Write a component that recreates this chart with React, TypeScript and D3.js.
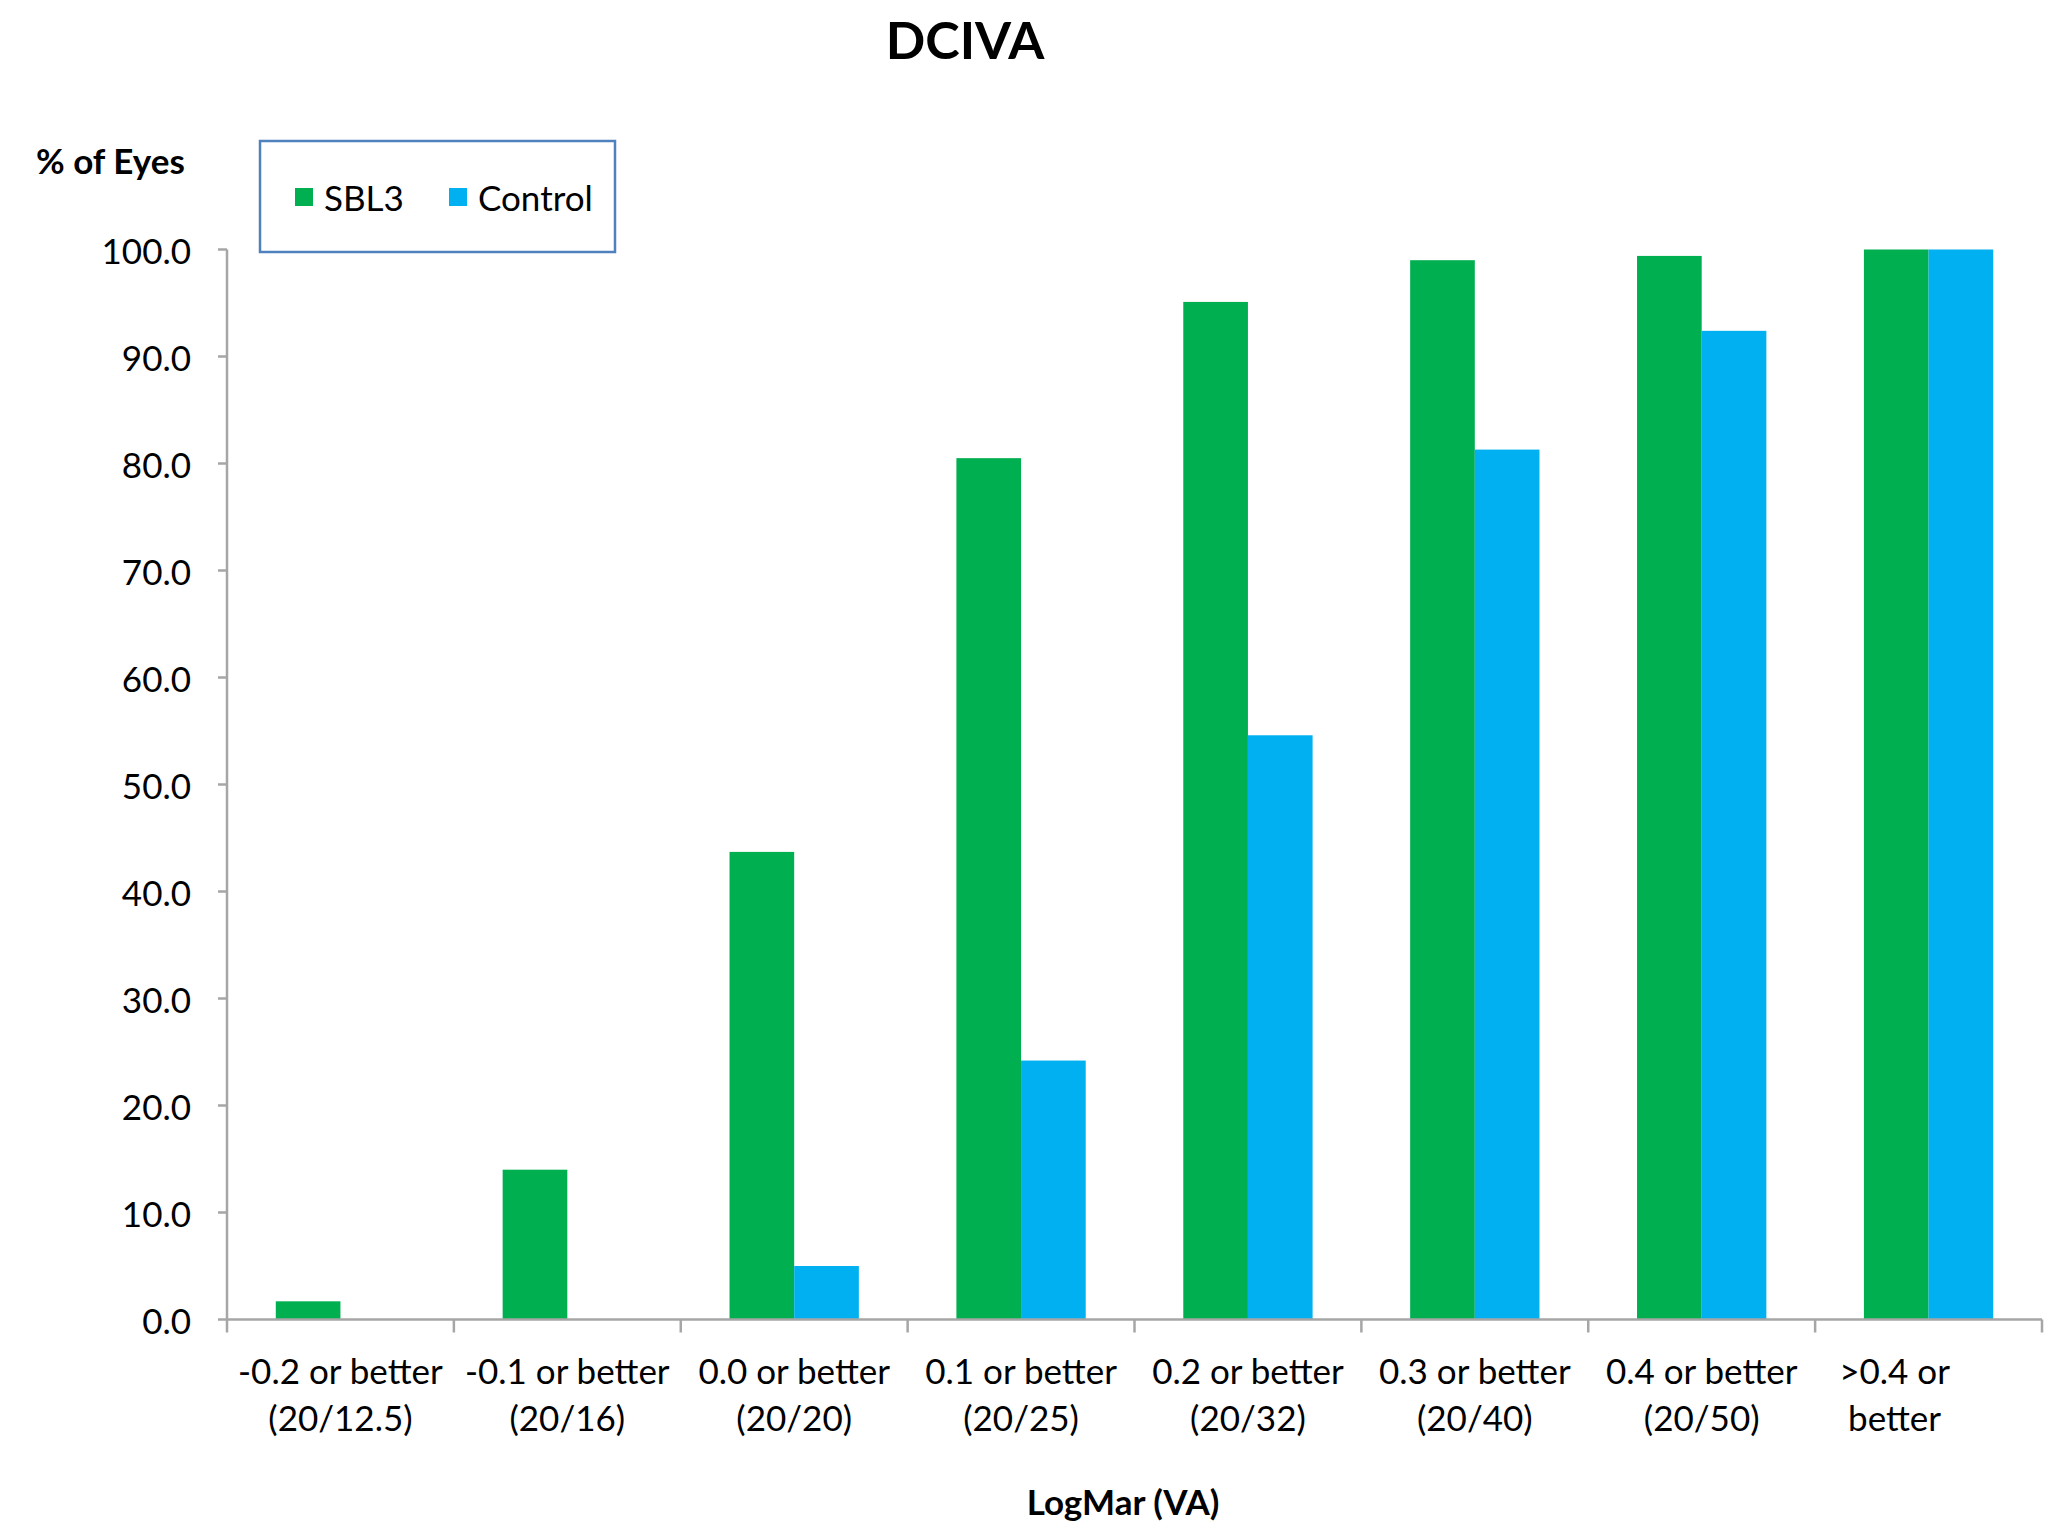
import React from "react";
import * as d3 from "d3";

const categories: string[][] = [
  ["-0.2 or better", "(20/12.5)"],
  ["-0.1 or better", "(20/16)"],
  ["0.0 or better", "(20/20)"],
  ["0.1 or better", "(20/25)"],
  ["0.2 or better", "(20/32)"],
  ["0.3 or better", "(20/40)"],
  ["0.4 or better", "(20/50)"],
  [">0.4 or", "better"],
];
const sbl3: number[] = [1.7, 14.0, 43.7, 80.5, 95.1, 99.0, 99.4, 100.0];
const control: number[] = [0, 0, 5.0, 24.2, 54.6, 81.3, 92.4, 100.0];
const yTicks: number[] = [0, 10, 20, 30, 40, 50, 60, 70, 80, 90, 100];
const seriesNames = ["SBL3", "Control"];
const seriesColors = ["#00B050", "#00B0F0"];

const W = 2048;
const H = 1535;
const FONT = "Lato, 'Open Sans', sans-serif";

export default function App() {
  const left = 227;
  const right = 2042;
  const top = 249.5;
  const bottom = 1319.5;

  const x = d3
    .scaleBand<number>()
    .domain(d3.range(categories.length))
    .range([left, right])
    .paddingInner(0)
    .paddingOuter(0);
  const y = d3.scaleLinear().domain([0, 100]).range([bottom, top]);
  const bw = x.bandwidth();
  const barW = bw * 0.285;
  const off = (bw - 2 * barW) / 2;
  const axisColor = "#A6A6A6";
  const series = [sbl3, control];

  return (
    <svg
      width={W}
      height={H}
      style={{ position: "absolute", left: 0, top: 0, background: "#fff" }}
      fontFamily={FONT}
    >
      <rect x={0} y={0} width={W} height={H} fill="#fff" />
      <text x={965} y={59} textAnchor="middle" fontSize={52} fontWeight="bold" fill="#000">
        DCIVA
      </text>
      <text x={36} y={174} fontSize={35} fontWeight="bold" fill="#000">
        % of Eyes
      </text>

      {/* bars */}
      {series.map((vals, si) =>
        vals.map((v, i) =>
          v > 0 ? (
            <rect
              key={`b${si}-${i}`}
              x={(x(i) as number) + off + si * barW}
              y={y(v)}
              width={barW}
              height={y(0) - y(v)}
              fill={seriesColors[si]}
            />
          ) : null
        )
      )}

      {/* y axis */}
      <line x1={left} x2={left} y1={y(100)} y2={y(0)} stroke={axisColor} strokeWidth={2.5} />
      {yTicks.map((t) => (
        <g key={`yt${t}`}>
          <line x1={left - 9} x2={left} y1={y(t)} y2={y(t)} stroke={axisColor} strokeWidth={2.5} />
          <text
            x={191}
            y={y(t)}
            textAnchor="end"
            dominantBaseline="central"
            fontSize={35}
            fill="#000"
          >
            {t.toFixed(1)}
          </text>
        </g>
      ))}

      {/* x axis */}
      <line x1={left} x2={right} y1={y(0)} y2={y(0)} stroke={axisColor} strokeWidth={2.5} />
      {d3.range(categories.length + 1).map((i) => {
        const xx = i < categories.length ? (x(i) as number) : right;
        return (
          <line key={`xt${i}`} x1={xx} x2={xx} y1={y(0)} y2={y(0) + 13} stroke={axisColor} strokeWidth={2.5} />
        );
      })}
      {categories.map((lines, i) => {
        const cx = (x(i) as number) + bw / 2 + (i === categories.length - 1 ? -34 : 0);
        return (
          <text key={`xl${i}`} textAnchor="middle" fontSize={35} fill="#000">
            {lines.map((ln, j) => (
              <tspan key={j} x={cx} y={1370 + j * 47} dominantBaseline="central">
                {ln}
              </tspan>
            ))}
          </text>
        );
      })}
      <text x={1123} y={1501} textAnchor="middle" dominantBaseline="central" fontSize={35} fontWeight="bold" fill="#000">
        LogMar (VA)
      </text>

      {/* legend */}
      <rect x={260} y={141} width={355} height={111} fill="#fff" stroke="#4F81BD" strokeWidth={2.5} />
      {seriesNames.map((n, i) => {
        const lx = i === 0 ? 295 : 449;
        return (
          <g key={`lg${i}`}>
            <rect x={lx} y={188} width={18} height={18} fill={seriesColors[i]} />
            <text x={lx + 29} y={197} dominantBaseline="central" fontSize={35} fill="#000">
              {n}
            </text>
          </g>
        );
      })}
    </svg>
  );
}
